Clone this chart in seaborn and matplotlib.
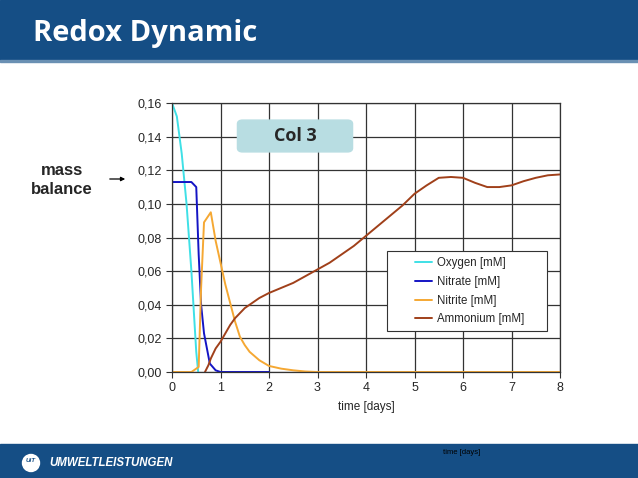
import numpy as np
import pandas as pd
import seaborn as sns
import matplotlib
matplotlib.use("Agg")
from matplotlib import pyplot as plt
from matplotlib.patches import Rectangle, FancyBboxPatch, Ellipse
from matplotlib.ticker import FuncFormatter

# data
oxygen_t = [0, 0.1, 0.2, 0.3, 0.4, 0.5, 0.54]
oxygen = [0.16, 0.152, 0.13, 0.10, 0.06, 0.012, 0.0]

nitrate_t = [0, 0.2, 0.4, 0.5, 0.55, 0.6, 0.66, 0.78, 0.9, 1.0, 1.5, 2.0]
nitrate = [0.113, 0.113, 0.113, 0.110, 0.07, 0.04, 0.023, 0.005, 0.001, 0.0, 0.0, 0.0]

nitrite_t = [0, 0.2, 0.4, 0.5, 0.55, 0.6, 0.66, 0.8, 0.9, 1.0, 1.1, 1.2, 1.3, 1.4, 1.5, 1.6, 1.8, 2.0, 2.25, 2.5, 2.75, 3.0, 8.0]
nitrite = [0.0, 0.0, 0.0, 0.002, 0.003, 0.05, 0.089, 0.095, 0.078, 0.065, 0.052, 0.041, 0.03, 0.021, 0.016, 0.012, 0.007, 0.0036, 0.002, 0.001, 0.0003, 0.0, 0.0]

ammonium_t = [0.68, 0.75, 0.8, 0.9, 1.0, 1.1, 1.2, 1.3, 1.4, 1.5, 1.6, 1.8, 2.0, 2.25, 2.5, 2.75,
              3.0, 3.25, 3.5, 3.75, 4.0, 4.25, 4.5, 4.75, 5.0, 5.25, 5.5, 5.75, 6.0, 6.25,
              6.5, 6.75, 7.0, 7.25, 7.5, 7.75, 8.0]
ammonium = [0.0, 0.004, 0.008, 0.014, 0.018, 0.023, 0.028, 0.032, 0.035, 0.038, 0.040, 0.044, 0.047,
            0.050, 0.053, 0.057, 0.061, 0.065, 0.070, 0.075, 0.081, 0.087, 0.093, 0.099, 0.106,
            0.111, 0.1155, 0.116, 0.1155, 0.1125, 0.110, 0.110, 0.111, 0.1135, 0.1155, 0.117, 0.1175]

series = ["Oxygen [mM]", "Nitrate [mM]", "Nitrite [mM]", "Ammonium [mM]"]
colors = ["#3fe0e6", "#1414c4", "#f5a833", "#a0401a"]

frames = []
for name, t, v in zip(series, [oxygen_t, nitrate_t, nitrite_t, ammonium_t],
                      [oxygen, nitrate, nitrite, ammonium]):
    frames.append(pd.DataFrame({"time": t, "value": v, "series": name}))
df = pd.concat(frames, ignore_index=True)

sns.set_style("white")
plt.rcParams["font.family"] = ["Liberation Sans", "DejaVu Sans"]

fig = plt.figure(figsize=(6.38, 4.78), dpi=100)
hdr = "#154e85"

# header and footer bands
fig.patches.append(Rectangle((0, 1 - 60 / 478), 1, 60 / 478, transform=fig.transFigure,
                             color=hdr, zorder=0))
fig.patches.append(Rectangle((0, 1 - 61.5 / 478), 1, 1.5 / 478, transform=fig.transFigure,
                             color="#6a90b3", zorder=0))
fig.patches.append(Rectangle((0, 0), 1, 34 / 478, transform=fig.transFigure,
                             color=hdr, zorder=0))
fig.text(33 / 638, 1 - 33 / 478, "Redox Dynamic", color="white", fontsize=21,
         fontweight="bold", family="Open Sans", va="center", ha="left")

ax = fig.add_axes([172 / 638, 106 / 478, 388 / 638, 269 / 478])
sns.lineplot(data=df, x="time", y="value", hue="series", hue_order=series,
             palette=colors, linewidth=1.4, sort=False, estimator=None, ax=ax)

ax.set_xlim(0, 8)
ax.set_ylim(0, 0.16)
ax.set_xticks(range(0, 9))
ax.set_yticks(np.arange(0, 0.161, 0.02))
ax.yaxis.set_major_formatter(FuncFormatter(lambda v, p: f"{v:.2f}".replace(".", ",")))
ax.grid(True, color="#333333", linewidth=0.9)
ax.set_axisbelow(True)
for s in ax.spines.values():
    s.set_color("#333333")
    s.set_linewidth(0.9)
ax.tick_params(axis="both", labelsize=9, length=4, color="#333333", direction="out",
               left=True, bottom=True)
ax.set_xlabel("time [days]", fontsize=8.5, labelpad=5)
ax.set_ylabel("")

# legend with its own frame box
ax.add_patch(Rectangle((0.554, 0.152), 0.412, 0.298, transform=ax.transAxes,
                       facecolor="white", edgecolor="#333333", linewidth=0.8, zorder=4))
handles, labels = ax.get_legend_handles_labels()
leg = ax.legend(handles, labels, loc="upper left", bbox_to_anchor=(0.626, 0.426),
                fontsize=8.3, frameon=False, borderpad=0, borderaxespad=0,
                handlelength=1.5, handletextpad=0.4, labelspacing=0.58)
leg.set_zorder(5)

# "Col 3" label box
fig.patches.append(FancyBboxPatch((240 / 638, 1 - 150 / 478), 110 / 638, 28 / 478,
                                  boxstyle="round,pad=0.004,rounding_size=0.008",
                                  transform=fig.transFigure, color="#b8dde2", zorder=5))
fig.text(295 / 638, 1 - 136 / 478, "Col 3", fontsize=13, fontweight="bold",
         family="Open Sans", ha="center", va="center", zorder=6)

# mass balance annotation
fig.text(62 / 638, 1 - 180 / 478, "mass\nbalance", fontsize=12, fontweight="bold",
         ha="center", va="center", linespacing=1.35)
fig.add_artist(plt.Annotation("", xy=(128 / 638, 1 - 179 / 478), xytext=(107 / 638, 1 - 179 / 478),
                              xycoords="figure fraction",
                              arrowprops=dict(arrowstyle="-|>", color="black", lw=0.9,
                                              mutation_scale=6)))

# footer logo and text
fig.patches.append(Ellipse((31 / 638, 1 - 463 / 478), 17 / 638, 17 / 478,
                           transform=fig.transFigure, color="white", zorder=3))
fig.text(31 / 638, 1 - 461 / 478, "UIT", fontsize=4.5, color=hdr, fontweight="bold",
         fontstyle="italic", ha="center", va="center", zorder=4)
fig.text(49 / 638, 1 - 463 / 478, "UMWELTLEISTUNGEN", fontsize=8.3, color="white",
         fontweight="bold", fontstyle="italic", ha="left", va="center")
fig.text(462 / 638, 1 - 453 / 478, "time [days]", fontsize=5.5, color="black",
         ha="center", va="center")

fig.savefig("out.png", dpi=100)
